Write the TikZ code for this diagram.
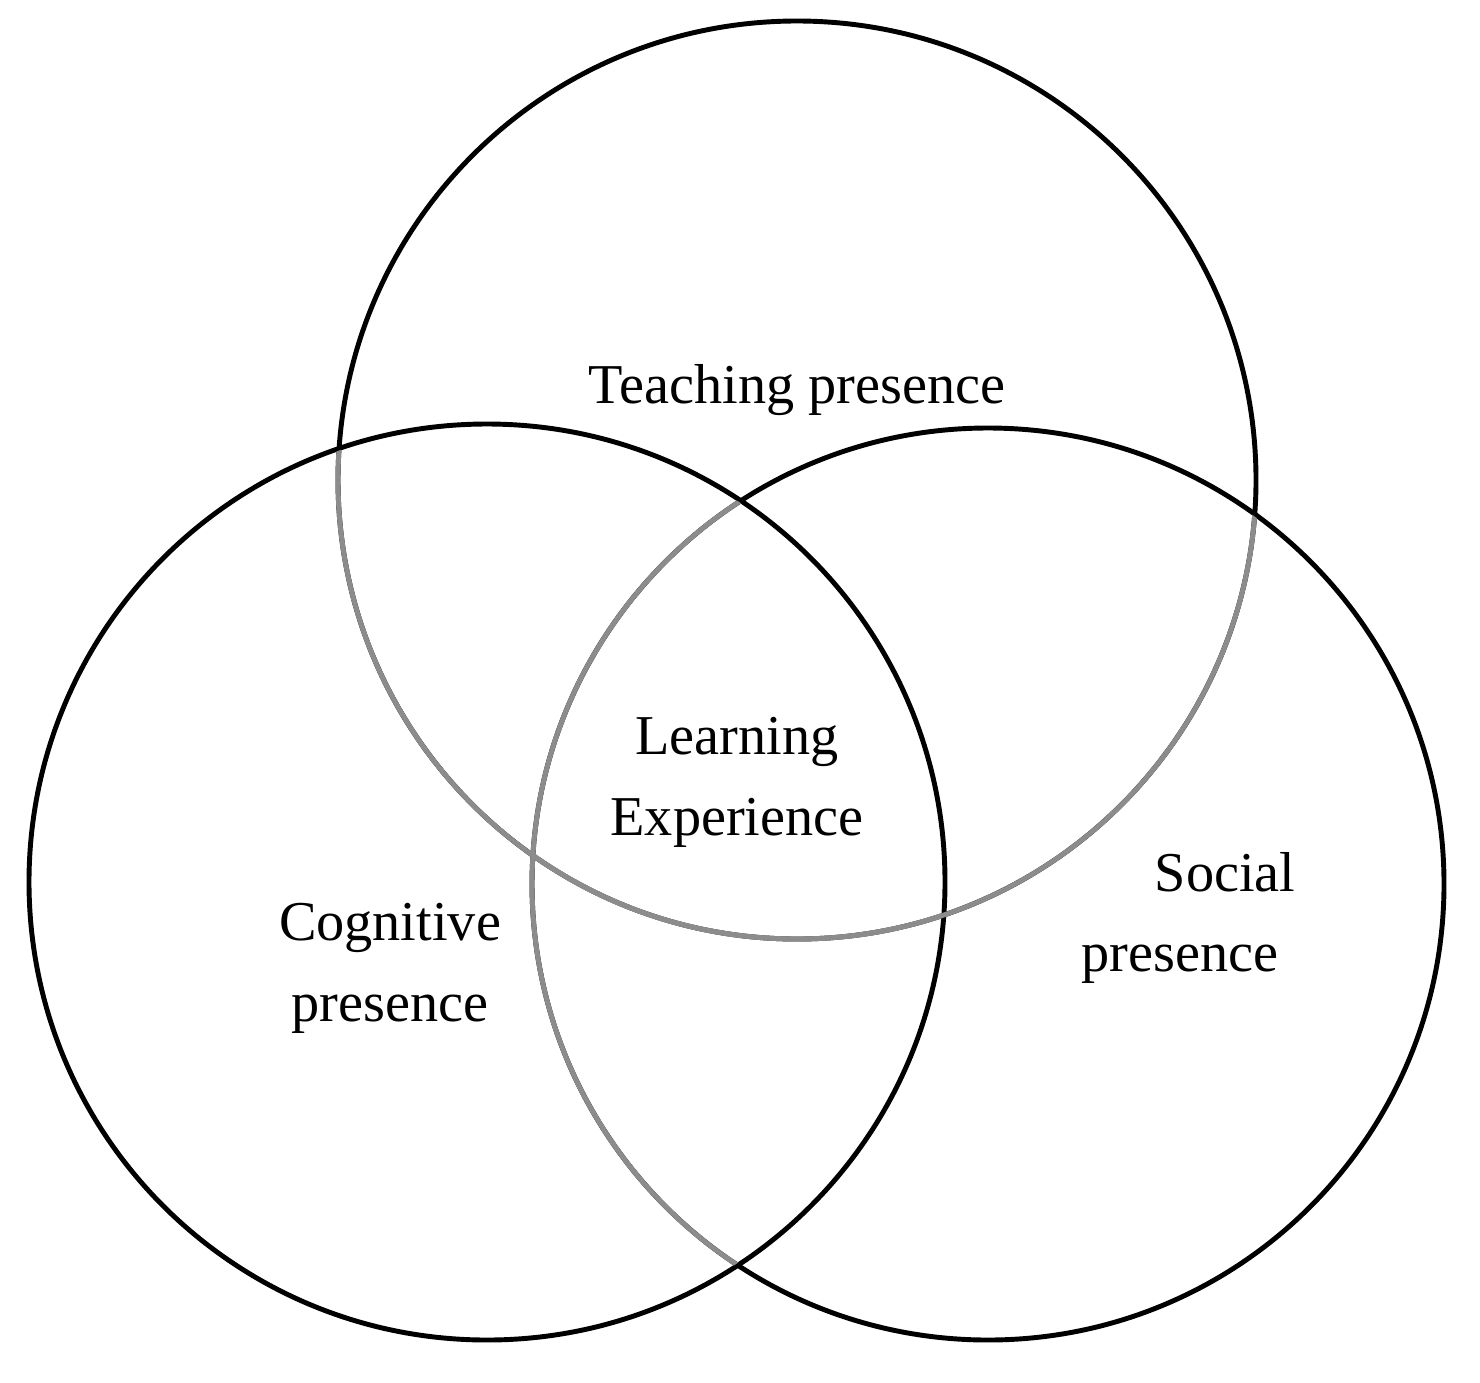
\documentclass[tikz,border=0pt]{standalone}
\usepackage{fontspec}
\setmainfont{Liberation Serif}
\begin{document}
\begin{tikzpicture}[x=0.01cm,y=-0.01cm,
  ring/.style={line width=1.4pt,black},
  gring/.style={line width=1.4pt,black!45},
  lbl/.style={font=\fontsize{16}{23}\selectfont,align=center}]
\useasboundingbox (0,0) rectangle (1480,1382);
\coordinate (T) at (797,480);
\coordinate (L) at (487,882);
\coordinate (R) at (988,884);
\draw[ring] (T) circle[radius=459];
\draw[ring] (L) circle[radius=458];
\draw[ring] (R) circle[radius=456];
\begin{scope}
  \clip (L) circle[radius=456];
  \draw[gring] (T) circle[radius=459];
  \draw[gring] (R) circle[radius=456];
\end{scope}
\begin{scope}
  \clip (R) circle[radius=454];
  \draw[gring] (T) circle[radius=459];
\end{scope}
\node[lbl] (tp) at (797,390) {Teaching presence};
\node[lbl] (le) at (737,782) {Learning\\Experience};
\node[lbl] (sp) at (1180,918) {\hspace*{0.9cm}Social\\presence};
\node[lbl] (cp) at (390,968) {Cognitive\\presence};
\end{tikzpicture}
\end{document}
